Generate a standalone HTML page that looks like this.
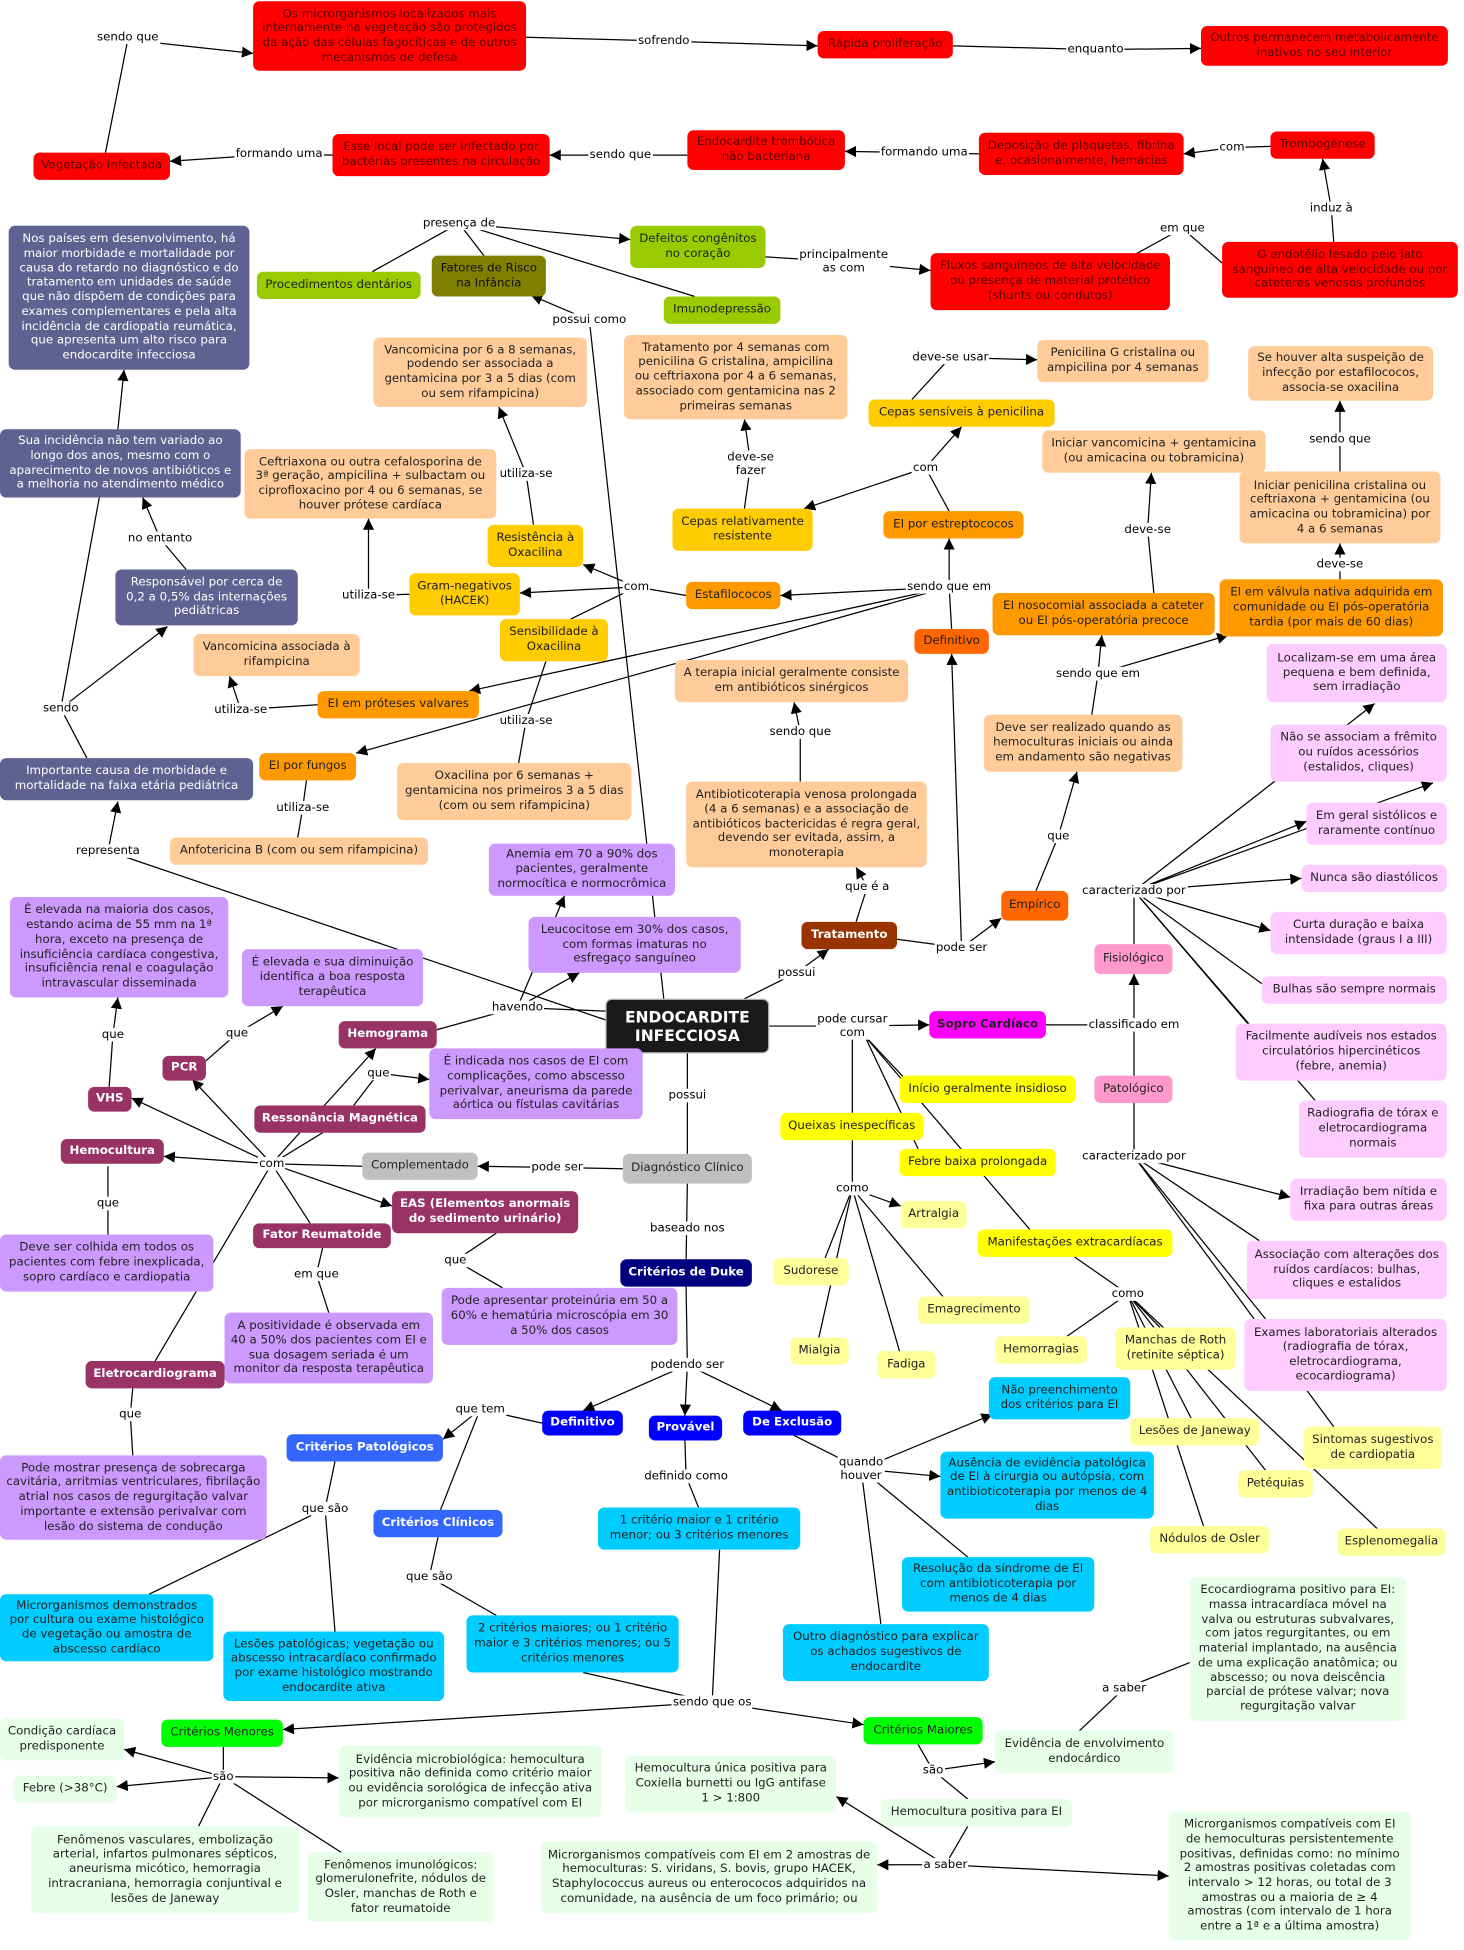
<!DOCTYPE html>
<html><head><meta charset="utf-8">
<style>
html,body{margin:0;padding:0;background:#fff;}
#wrap{position:relative;width:1464px;height:1950px;overflow:hidden;}
#c{position:absolute;left:0;top:0;width:1180px;height:1572px;transform:scale(1.2407);transform-origin:0 0;font-family:"DejaVu Sans","Liberation Sans",sans-serif;font-size:9.5px;line-height:11.7px;}
.n{position:absolute;display:flex;align-items:center;justify-content:center;text-align:center;border-radius:5px;box-sizing:border-box;padding:0 5px;}
.l{position:absolute;transform:translate(-50%,-50%);background:#fff;white-space:nowrap;text-align:center;line-height:11px;padding:0 1px;}
.r{background:#ff0000;color:#5c0000;}
.p{background:#5f6191;color:#fff;}
.g{background:#99cc00;color:#222;}
.o{background:#808000;color:#111;}
.pe{background:#ffcc99;color:#222;}
.y{background:#ffcc00;color:#222;}
.or{background:#ff9900;color:#222;}
.or2{background:#ff6600;color:#222;}
.lp{background:#cc99ff;color:#222;}
.dm{background:#993366;color:#fff;font-weight:bold;padding:0 2px;}
.gr{background:#c0c0c0;color:#222;}
.bl{background:#0000ff;color:#fff;font-weight:bold;padding:0 2px;}
.bl2{background:#3366ff;color:#fff;font-weight:bold;padding:0 2px;}
.cy{background:#00ccff;color:#222;}
.gn{background:#00ff00;color:#222;padding:0 2px;}
.lg{background:#e6ffe6;color:#222;}
.pk{background:#ff99cc;color:#222;padding:0 2px;}
.lpk{background:#ffccff;color:#222;}
.ye{background:#ffff00;color:#222;padding:0 2px;}
.ly{background:#ffff99;color:#222;padding:0 2px;}
svg{position:absolute;left:0;top:0;}
</style></head><body><div id="wrap"><div id="c">
<svg width="1180" height="1572" viewBox="0 0 1180 1572">
<defs><marker id="a" viewBox="0 0 10 10" refX="10" refY="5" markerWidth="9" markerHeight="9" markerUnits="userSpaceOnUse" orient="auto"><path d="M0,0L10,5L0,10z" fill="#000"/></marker></defs>
<g stroke="#000" stroke-width="1" fill="none">
<line x1="85" y1="123" x2="103" y2="32"/><line x1="103" y1="32" x2="204" y2="43" marker-end="url(#a)"/>
<line x1="424" y1="30" x2="535" y2="33"/><line x1="535" y1="33" x2="659" y2="37" marker-end="url(#a)"/>
<line x1="768" y1="37" x2="883" y2="40"/><line x1="883" y1="40" x2="968" y2="39" marker-end="url(#a)"/>
<line x1="1024" y1="118" x2="993" y2="119"/><line x1="993" y1="119" x2="954" y2="124" marker-end="url(#a)"/>
<line x1="1075" y1="195" x2="1073" y2="168"/><line x1="1073" y1="168" x2="1066" y2="128" marker-end="url(#a)"/>
<line x1="789" y1="124" x2="745" y2="123"/><line x1="745" y1="123" x2="681" y2="122" marker-end="url(#a)"/>
<line x1="554" y1="125" x2="500" y2="125"/><line x1="500" y1="125" x2="443" y2="125" marker-end="url(#a)"/>
<line x1="268" y1="125" x2="225" y2="124"/><line x1="225" y1="124" x2="137" y2="130" marker-end="url(#a)"/>
<line x1="915" y1="205" x2="953" y2="184"/><line x1="953" y1="184" x2="985" y2="212"/>
<line x1="617" y1="207" x2="680" y2="211"/><line x1="680" y1="211" x2="750" y2="218" marker-end="url(#a)"/>
<line x1="95" y1="346" x2="100" y2="298" marker-end="url(#a)"/>
<line x1="150" y1="459" x2="129" y2="434"/><line x1="129" y1="434" x2="115" y2="401" marker-end="url(#a)"/>
<line x1="70" y1="611" x2="49" y2="571"/><line x1="49" y1="571" x2="80" y2="401"/><line x1="49" y1="571" x2="135" y2="505" marker-end="url(#a)"/>
<line x1="488" y1="822" x2="87" y2="686"/><line x1="87" y1="686" x2="95" y2="646" marker-end="url(#a)"/>
<line x1="370" y1="180" x2="300" y2="219"/><line x1="370" y1="180" x2="390" y2="206"/><line x1="370" y1="180" x2="508" y2="193" marker-end="url(#a)"/><line x1="370" y1="180" x2="560" y2="239"/>
<line x1="535" y1="805" x2="475" y2="258"/><line x1="475" y1="258" x2="428" y2="238" marker-end="url(#a)"/>
<line x1="600" y1="805" x2="642" y2="784"/><line x1="642" y1="784" x2="668" y2="765" marker-end="url(#a)"/>
<line x1="690" y1="743" x2="699" y2="715"/><line x1="699" y1="715" x2="690" y2="699" marker-end="url(#a)"/>
<line x1="645" y1="630" x2="645" y2="590"/><line x1="645" y1="590" x2="640" y2="566" marker-end="url(#a)"/>
<line x1="723" y1="757" x2="775" y2="764"/><line x1="775" y1="764" x2="807" y2="740" marker-end="url(#a)"/><line x1="775" y1="764" x2="767" y2="527" marker-end="url(#a)"/>
<line x1="835" y1="718" x2="853" y2="674"/><line x1="853" y1="674" x2="868" y2="622" marker-end="url(#a)"/>
<line x1="767" y1="507" x2="765" y2="473"/><line x1="765" y1="473" x2="765" y2="434" marker-end="url(#a)"/><line x1="765" y1="473" x2="629" y2="480" marker-end="url(#a)"/><line x1="765" y1="473" x2="378" y2="557" marker-end="url(#a)"/><line x1="765" y1="473" x2="287" y2="607" marker-end="url(#a)"/>
<line x1="880" y1="576" x2="885" y2="543"/><line x1="885" y1="543" x2="888" y2="512" marker-end="url(#a)"/><line x1="885" y1="543" x2="990" y2="512" marker-end="url(#a)"/>
<line x1="930" y1="478" x2="925" y2="427"/><line x1="925" y1="427" x2="928" y2="381" marker-end="url(#a)"/>
<line x1="1080" y1="467" x2="1080" y2="455"/><line x1="1080" y1="455" x2="1080" y2="438" marker-end="url(#a)"/>
<line x1="1080" y1="380" x2="1080" y2="354"/><line x1="1080" y1="354" x2="1080" y2="323" marker-end="url(#a)"/>
<line x1="765" y1="412" x2="746" y2="377"/><line x1="746" y1="377" x2="775" y2="344" marker-end="url(#a)"/><line x1="746" y1="377" x2="648" y2="410" marker-end="url(#a)"/>
<line x1="600" y1="410" x2="605" y2="374"/><line x1="605" y1="374" x2="600" y2="338" marker-end="url(#a)"/>
<line x1="735" y1="322" x2="766" y2="288"/><line x1="766" y1="288" x2="836" y2="290" marker-end="url(#a)"/>
<line x1="553" y1="480" x2="513" y2="473"/><line x1="513" y1="473" x2="470" y2="455" marker-end="url(#a)"/><line x1="513" y1="473" x2="419" y2="478" marker-end="url(#a)"/><line x1="513" y1="473" x2="460" y2="499"/>
<line x1="430" y1="423" x2="424" y2="382"/><line x1="424" y1="382" x2="402" y2="328" marker-end="url(#a)"/>
<line x1="330" y1="479" x2="297" y2="480"/><line x1="297" y1="480" x2="297" y2="418" marker-end="url(#a)"/>
<line x1="440" y1="533" x2="424" y2="581"/><line x1="424" y1="581" x2="418" y2="615"/>
<line x1="256" y1="568" x2="194" y2="572"/><line x1="194" y1="572" x2="185" y2="545" marker-end="url(#a)"/>
<line x1="247" y1="629" x2="244" y2="651"/><line x1="244" y1="651" x2="240" y2="675"/>
<line x1="488" y1="815" x2="417" y2="812"/><line x1="417" y1="812" x2="467" y2="784" marker-end="url(#a)"/><line x1="417" y1="812" x2="455" y2="722" marker-end="url(#a)"/><line x1="352" y1="830" x2="417" y2="812"/>
<line x1="166" y1="855" x2="191" y2="833"/><line x1="191" y1="833" x2="228" y2="811" marker-end="url(#a)"/>
<line x1="88" y1="876" x2="91" y2="834"/><line x1="91" y1="834" x2="95" y2="804" marker-end="url(#a)"/>
<line x1="285" y1="891" x2="305" y2="865"/><line x1="305" y1="865" x2="346" y2="870" marker-end="url(#a)"/>
<line x1="292" y1="940" x2="219" y2="938"/><line x1="219" y1="938" x2="132" y2="932" marker-end="url(#a)"/><line x1="219" y1="938" x2="106" y2="885" marker-end="url(#a)"/><line x1="219" y1="938" x2="155" y2="870" marker-end="url(#a)"/><line x1="219" y1="938" x2="303" y2="845" marker-end="url(#a)"/><line x1="219" y1="938" x2="260" y2="913"/><line x1="219" y1="938" x2="250" y2="986"/><line x1="219" y1="938" x2="316" y2="972" marker-end="url(#a)"/><line x1="219" y1="938" x2="125" y2="1097"/>
<line x1="502" y1="942" x2="449" y2="941"/><line x1="449" y1="941" x2="385" y2="940" marker-end="url(#a)"/>
<line x1="554" y1="849" x2="554" y2="930"/>
<line x1="554" y1="954" x2="553" y2="1015"/>
<line x1="87" y1="940" x2="87" y2="995"/>
<line x1="400" y1="994" x2="367" y2="1016"/><line x1="367" y1="1016" x2="405" y2="1038"/>
<line x1="260" y1="1006" x2="255" y2="1027"/><line x1="255" y1="1027" x2="265" y2="1058"/>
<line x1="107" y1="1119" x2="105" y2="1140"/><line x1="105" y1="1140" x2="107" y2="1173"/>
<line x1="553" y1="1037" x2="554" y2="1100"/><line x1="554" y1="1100" x2="470" y2="1137" marker-end="url(#a)"/><line x1="554" y1="1100" x2="552" y2="1141" marker-end="url(#a)"/><line x1="554" y1="1100" x2="630" y2="1137" marker-end="url(#a)"/>
<line x1="437" y1="1147" x2="387" y2="1136"/><line x1="387" y1="1136" x2="357" y2="1160" marker-end="url(#a)"/><line x1="387" y1="1136" x2="355" y2="1217"/>
<line x1="270" y1="1178" x2="262" y2="1216"/><line x1="262" y1="1216" x2="120" y2="1285"/><line x1="262" y1="1216" x2="270" y2="1315"/>
<line x1="353" y1="1239" x2="346" y2="1271"/><line x1="346" y1="1271" x2="400" y2="1302"/>
<line x1="552" y1="1161" x2="553" y2="1190"/><line x1="553" y1="1190" x2="563" y2="1215"/>
<line x1="640" y1="1157" x2="694" y2="1184"/><line x1="694" y1="1184" x2="800" y2="1140" marker-end="url(#a)"/><line x1="694" y1="1184" x2="758" y2="1190" marker-end="url(#a)"/><line x1="694" y1="1184" x2="780" y2="1255"/><line x1="694" y1="1184" x2="710" y2="1309"/>
<line x1="580" y1="1249" x2="574" y2="1372"/><line x1="470" y1="1348" x2="574" y2="1372"/><line x1="574" y1="1372" x2="228" y2="1394" marker-end="url(#a)"/><line x1="574" y1="1372" x2="696" y2="1390" marker-end="url(#a)"/>
<line x1="180" y1="1408" x2="180" y2="1432"/><line x1="180" y1="1432" x2="100" y2="1410" marker-end="url(#a)"/><line x1="180" y1="1432" x2="94" y2="1440" marker-end="url(#a)"/><line x1="180" y1="1432" x2="273" y2="1433" marker-end="url(#a)"/><line x1="180" y1="1432" x2="160" y2="1472"/><line x1="180" y1="1432" x2="275" y2="1493"/>
<line x1="740" y1="1406" x2="752" y2="1427"/><line x1="752" y1="1427" x2="802" y2="1420" marker-end="url(#a)"/><line x1="752" y1="1427" x2="780" y2="1450"/>
<line x1="870" y1="1395" x2="906" y2="1361"/><line x1="906" y1="1361" x2="959" y2="1340"/>
<line x1="780" y1="1472" x2="762" y2="1503"/><line x1="762" y1="1503" x2="674" y2="1448" marker-end="url(#a)"/><line x1="762" y1="1503" x2="707" y2="1503" marker-end="url(#a)"/><line x1="762" y1="1503" x2="942" y2="1512" marker-end="url(#a)"/>
<line x1="620" y1="827" x2="687" y2="827"/><line x1="687" y1="827" x2="749" y2="826" marker-end="url(#a)"/>
<line x1="697" y1="835" x2="730" y2="870"/><line x1="687" y1="835" x2="687" y2="897"/><line x1="697" y1="835" x2="740" y2="926"/><line x1="697" y1="835" x2="830" y2="991"/>
<line x1="843" y1="826" x2="914" y2="826"/><line x1="914" y1="826" x2="914" y2="785" marker-end="url(#a)"/><line x1="914" y1="826" x2="914" y2="867"/>
<line x1="914" y1="761" x2="914" y2="718"/>
<line x1="914" y1="718" x2="1108" y2="567" marker-end="url(#a)"/><line x1="914" y1="718" x2="1155" y2="631" marker-end="url(#a)"/><line x1="914" y1="718" x2="1053" y2="662" marker-end="url(#a)"/><line x1="914" y1="718" x2="1049" y2="708" marker-end="url(#a)"/><line x1="914" y1="718" x2="1024" y2="750" marker-end="url(#a)"/><line x1="914" y1="718" x2="1020" y2="795"/><line x1="914" y1="718" x2="1010" y2="830"/><line x1="914" y1="718" x2="1060" y2="887"/>
<line x1="914" y1="889" x2="914" y2="932"/><line x1="914" y1="932" x2="1040" y2="965" marker-end="url(#a)"/><line x1="914" y1="932" x2="1015" y2="1000"/><line x1="914" y1="932" x2="1020" y2="1063"/><line x1="914" y1="932" x2="1075" y2="1150"/>
<line x1="687" y1="919" x2="687" y2="958"/><line x1="687" y1="958" x2="726" y2="972" marker-end="url(#a)"/><line x1="687" y1="958" x2="665" y2="1014"/><line x1="687" y1="958" x2="760" y2="1045"/><line x1="687" y1="958" x2="660" y2="1078"/><line x1="687" y1="958" x2="725" y2="1089"/>
<line x1="866" y1="1013" x2="909" y2="1043"/><line x1="909" y1="1043" x2="860" y2="1077"/><line x1="909" y1="1043" x2="935" y2="1070"/><line x1="909" y1="1043" x2="960" y2="1143"/><line x1="909" y1="1043" x2="1020" y2="1185"/><line x1="909" y1="1043" x2="970" y2="1230"/><line x1="909" y1="1043" x2="1110" y2="1232"/>
</g></svg>

<div class="n r" style="left:204px;top:1px;width:220px;height:56px">Os microrganismos localizados mais internamente na vegetação são protegidos da ação das células fagocíticas e de outros mecanismos de defesa</div>
<div class="n r" style="left:659px;top:25px;width:109px;height:22px">Rápida proliferação</div>
<div class="n r" style="left:968px;top:21px;width:199px;height:32px">Outros permanecem metabolicamente inativos no seu interior</div>
<div class="n r" style="left:27px;top:123px;width:110px;height:22px">Vegetação infectada</div>
<div class="n r" style="left:268px;top:108px;width:175px;height:34px">Esse local pode ser infectado por bactérias presentes na circulação</div>
<div class="n r" style="left:554px;top:105px;width:127px;height:32px">Endocardite trombótica não bacteriana</div>
<div class="n r" style="left:789px;top:107px;width:165px;height:34px">Deposição de plaquetas, fibrina e, ocasionalmente, hemácias</div>
<div class="n r" style="left:1024px;top:106px;width:84px;height:22px">Trombogênese</div>
<div class="n r" style="left:985px;top:195px;width:190px;height:45px">O endotélio lesado pelo jato sanguíneo de alta velocidade ou por cateteres venosos profundos</div>
<div class="n r" style="left:750px;top:204px;width:193px;height:46px">Fluxos sanguíneos de alta velocidade ou presença de material protético (shunts ou condutos)</div>

<div class="n p" style="left:7px;top:182px;width:194px;height:116px">Nos países em desenvolvimento, há maior morbidade e mortalidade por causa do retardo no diagnóstico e do tratamento em unidades de saúde que não dispõem de condições para exames complementares e pela alta incidência de cardiopatia reumática, que apresenta um alto risco para endocardite infecciosa</div>
<div class="n p" style="left:0px;top:346px;width:194px;height:55px">Sua incidência não tem variado ao longo dos anos, mesmo com o aparecimento de novos antibióticos e a melhoria no atendimento médico</div>
<div class="n p" style="left:93px;top:459px;width:147px;height:45px">Responsável por cerca de 0,2 a 0,5% das internações pediátricas</div>
<div class="n p" style="left:0px;top:611px;width:204px;height:34px">Importante causa de morbidade e mortalidade na faixa etária pediátrica</div>

<div class="n g" style="left:207px;top:219px;width:132px;height:22px">Procedimentos dentários</div>
<div class="n o" style="left:348px;top:206px;width:92px;height:33px">Fatores de Risco na Infância</div>
<div class="n g" style="left:508px;top:182px;width:109px;height:34px">Defeitos congênitos no coração</div>
<div class="n g" style="left:535px;top:239px;width:94px;height:22px">Imunodepressão</div>

<div class="n pe" style="left:301px;top:272px;width:172px;height:56px">Vancomicina por 6 a 8 semanas, podendo ser associada a gentamicina por 3 a 5 dias (com ou sem rifampicina)</div>
<div class="n pe" style="left:503px;top:270px;width:180px;height:68px">Tratamento por 4 semanas com penicilina G cristalina, ampicilina ou ceftriaxona por 4 a 6 semanas, associado com gentamicina nas 2 primeiras semanas</div>
<div class="n pe" style="left:197px;top:362px;width:203px;height:56px">Ceftriaxona ou outra cefalosporina de 3ª geração, ampicilina + sulbactam ou ciprofloxacino por 4 ou 6 semanas, se houver prótese cardíaca</div>
<div class="n pe" style="left:156px;top:511px;width:134px;height:34px">Vancomicina associada à rifampicina</div>
<div class="n pe" style="left:320px;top:615px;width:189px;height:46px">Oxacilina por 6 semanas + gentamicina nos primeiros 3 a 5 dias (com ou sem rifampicina)</div>
<div class="n pe" style="left:137px;top:675px;width:208px;height:22px">Anfotericina B (com ou sem rifampicina)</div>
<div class="n pe" style="left:544px;top:532px;width:188px;height:34px">A terapia inicial geralmente consiste em antibióticos sinérgicos</div>
<div class="n pe" style="left:553px;top:630px;width:194px;height:69px">Antibioticoterapia venosa prolongada (4 a 6 semanas) e a associação de antibióticos bactericidas é regra geral, devendo ser evitada, assim, a monoterapia</div>
<div class="n pe" style="left:793px;top:576px;width:160px;height:46px">Deve ser realizado quando as hemoculturas iniciais ou ainda em andamento são negativas</div>
<div class="n pe" style="left:836px;top:274px;width:138px;height:34px">Penicilina G cristalina ou ampicilina por 4 semanas</div>
<div class="n pe" style="left:840px;top:347px;width:180px;height:34px">Iniciar vancomicina + gentamicina (ou amicacina ou tobramicina)</div>
<div class="n pe" style="left:1006px;top:279px;width:149px;height:44px">Se houver alta suspeição de infecção por estafilococos, associa-se oxacilina</div>
<div class="n pe" style="left:999px;top:380px;width:162px;height:58px">Iniciar penicilina cristalina ou ceftriaxona + gentamicina (ou amicacina ou tobramicina) por 4 a 6 semanas</div>

<div class="n y" style="left:393px;top:423px;width:77px;height:34px">Resistência à Oxacilina</div>
<div class="n y" style="left:330px;top:462px;width:89px;height:34px">Gram-negativos (HACEK)</div>
<div class="n y" style="left:403px;top:499px;width:87px;height:34px">Sensibilidade à Oxacilina</div>
<div class="n y" style="left:700px;top:322px;width:150px;height:22px">Cepas sensíveis à penicilina</div>
<div class="n y" style="left:542px;top:410px;width:113px;height:34px">Cepas relativamente resistente</div>

<div class="n or" style="left:553px;top:469px;width:76px;height:22px">Estafilococos</div>
<div class="n or" style="left:712px;top:412px;width:113px;height:22px">EI por estreptococos</div>
<div class="n or" style="left:256px;top:557px;width:130px;height:22px">EI em próteses valvares</div>
<div class="n or" style="left:209px;top:607px;width:78px;height:22px">EI por fungos</div>
<div class="n or" style="left:800px;top:478px;width:179px;height:34px">EI nosocomial associada a cateter ou EI pós-operatória precoce</div>
<div class="n or" style="left:983px;top:467px;width:180px;height:46px">EI em válvula nativa adquirida em comunidade ou EI pós-operatória tardia (por mais de 60 dias)</div>
<div class="n or2" style="left:737px;top:507px;width:60px;height:20px">Definitivo</div>
<div class="n or2" style="left:807px;top:718px;width:54px;height:24px">Empírico</div>
<div class="n" style="left:646px;top:743px;width:77px;height:22px;background:#993300;color:#fff;font-weight:bold;padding:0">Tratamento</div>

<div class="n" style="left:488px;top:805px;width:132px;height:44px;background:#1a1a1a;color:#fff;font-weight:bold;font-size:12.5px;line-height:15px;border:1px solid #aaa">ENDOCARDITE INFECCIOSA</div>

<div class="n lp" style="left:394px;top:680px;width:150px;height:42px">Anemia em 70 a 90% dos pacientes, geralmente normocítica e normocrômica</div>
<div class="n lp" style="left:426px;top:739px;width:171px;height:45px">Leucocitose em 30% dos casos, com formas imaturas no esfregaço sanguíneo</div>
<div class="n lp" style="left:346px;top:845px;width:172px;height:57px">É indicada nos casos de EI com complicações, como abscesso perivalvar, aneurisma da parede aórtica ou fístulas cavitárias</div>
<div class="n lp" style="left:8px;top:723px;width:176px;height:81px">É elevada na maioria dos casos, estando acima de 55 mm na 1ª hora, exceto na presença de insuficiência cardíaca congestiva, insuficiência renal e coagulação intravascular disseminada</div>
<div class="n lp" style="left:195px;top:765px;width:146px;height:46px">É elevada e sua diminuição identifica a boa resposta terapêutica</div>
<div class="n lp" style="left:0px;top:995px;width:172px;height:46px">Deve ser colhida em todos os pacientes com febre inexplicada, sopro cardíaco e cardiopatia</div>
<div class="n lp" style="left:356px;top:1038px;width:190px;height:46px">Pode apresentar proteinúria em 50 a 60% e hematúria microscópia em 30 a 50% dos casos</div>
<div class="n lp" style="left:181px;top:1058px;width:168px;height:57px">A positividade é observada em 40 a 50% dos pacientes com EI e sua dosagem seriada é um monitor da resposta terapêutica</div>
<div class="n lp" style="left:0px;top:1173px;width:215px;height:68px">Pode mostrar presença de sobrecarga cavitária, arritmias ventriculares, fibrilação atrial nos casos de regurgitação valvar importante e extensão perivalvar com lesão do sistema de condução</div>

<div class="n dm" style="left:273px;top:823px;width:79px;height:22px">Hemograma</div>
<div class="n dm" style="left:131px;top:851px;width:35px;height:20px">PCR</div>
<div class="n dm" style="left:71px;top:876px;width:35px;height:20px">VHS</div>
<div class="n dm" style="left:49px;top:918px;width:83px;height:20px">Hemocultura</div>
<div class="n dm" style="left:205px;top:891px;width:138px;height:22px">Ressonância Magnética</div>
<div class="n dm" style="left:316px;top:960px;width:150px;height:34px">EAS (Elementos anormais do sedimento urinário)</div>
<div class="n dm" style="left:204px;top:986px;width:111px;height:20px">Fator Reumatoide</div>
<div class="n dm" style="left:69px;top:1097px;width:112px;height:22px">Eletrocardiograma</div>
<div class="n gr" style="left:292px;top:929px;width:93px;height:22px">Complementado</div>
<div class="n gr" style="left:502px;top:930px;width:104px;height:24px">Diagnóstico Clínico</div>

<div class="n" style="left:500px;top:1015px;width:106px;height:22px;background:#000080;color:#fff;font-weight:bold;padding:0">Critérios de Duke</div>
<div class="n bl" style="left:437px;top:1137px;width:65px;height:20px">Definitivo</div>
<div class="n bl" style="left:523px;top:1141px;width:59px;height:20px">Provável</div>
<div class="n bl" style="left:599px;top:1137px;width:79px;height:20px">De Exclusão</div>
<div class="n bl2" style="left:231px;top:1156px;width:126px;height:22px">Critérios Patológicos</div>
<div class="n bl2" style="left:301px;top:1217px;width:104px;height:22px">Critérios Clínicos</div>
<div class="n cy" style="left:0px;top:1285px;width:172px;height:54px">Microrganismos demonstrados por cultura ou exame histológico de vegetação ou amostra de abscesso cardíaco</div>
<div class="n cy" style="left:180px;top:1315px;width:178px;height:56px">Lesões patológicas; vegetação ou abscesso intracardíaco confirmado por exame histológico mostrando endocardite ativa</div>
<div class="n cy" style="left:376px;top:1302px;width:171px;height:46px">2 critérios maiores; ou 1 critério maior e 3 critérios menores; ou 5 critérios menores</div>
<div class="n cy" style="left:482px;top:1215px;width:163px;height:34px">1 critério maior e 1 critério menor; ou 3 critérios menores</div>
<div class="n cy" style="left:797px;top:1110px;width:114px;height:34px">Não preenchimento dos critérios para EI</div>
<div class="n cy" style="left:758px;top:1170px;width:172px;height:54px">Ausência de evidência patológica de EI à cirurgia ou autópsia, com antibioticoterapia por menos de 4 dias</div>
<div class="n cy" style="left:727px;top:1255px;width:155px;height:44px">Resolução da síndrome de EI com antibioticoterapia por menos de 4 dias</div>
<div class="n cy" style="left:631px;top:1309px;width:166px;height:46px">Outro diagnóstico para explicar os achados sugestivos de endocardite</div>

<div class="n gn" style="left:130px;top:1386px;width:98px;height:22px">Critérios Menores</div>
<div class="n gn" style="left:696px;top:1384px;width:96px;height:22px">Critérios Maiores</div>
<div class="n lg" style="left:0px;top:1385px;width:100px;height:34px">Condição cardíaca predisponente</div>
<div class="n lg" style="left:11px;top:1431px;width:83px;height:22px">Febre (&gt;38°C)</div>
<div class="n lg" style="left:273px;top:1407px;width:212px;height:58px">Evidência microbiológica: hemocultura positiva não definida como critério maior ou evidência sorológica de infecção ativa por microrganismo compatível com EI</div>
<div class="n lg" style="left:25px;top:1472px;width:216px;height:70px">Fenômenos vasculares, embolização arterial, infartos pulmonares sépticos, aneurisma micótico, hemorragia intracraniana, hemorragia conjuntival e lesões de Janeway</div>
<div class="n lg" style="left:248px;top:1493px;width:150px;height:56px">Fenômenos imunológicos: glomerulonefrite, nódulos de Osler, manchas de Roth e fator reumatoide</div>
<div class="n lg" style="left:802px;top:1395px;width:144px;height:34px">Evidência de envolvimento endocárdico</div>
<div class="n lg" style="left:959px;top:1271px;width:174px;height:116px">Ecocardiograma positivo para EI: massa intracardíaca móvel na valva ou estruturas subvalvares, com jatos regurgitantes, ou em material implantado, na ausência de uma explicação anatômica; ou abscesso; ou nova deiscência parcial de prótese valvar; nova regurgitação valvar</div>
<div class="n lg" style="left:710px;top:1450px;width:154px;height:22px">Hemocultura positiva para EI</div>
<div class="n lg" style="left:504px;top:1415px;width:170px;height:46px">Hemocultura única positiva para Coxiella burnetti ou IgG antifase 1 &gt; 1:800</div>
<div class="n lg" style="left:436px;top:1484px;width:271px;height:58px">Microrganismos compatíveis com EI em 2 amostras de hemoculturas: S. viridans, S. bovis, grupo HACEK, Staphylococcus aureus ou enterococos adquiridos na comunidade, na ausência de um foco primário; ou</div>
<div class="n lg" style="left:942px;top:1460px;width:195px;height:104px">Microrganismos compatíveis com EI de hemoculturas persistentemente positivas, definidas como: no mínimo 2 amostras positivas coletadas com intervalo &gt; 12 horas, ou total de 3 amostras ou a maioria de ≥ 4 amostras (com intervalo de 1 hora entre a 1ª e a última amostra)</div>

<div class="n" style="left:749px;top:815px;width:94px;height:22px;background:#ff00ff;color:#222;font-weight:bold;padding:0">Sopro Cardíaco</div>
<div class="n pk" style="left:882px;top:761px;width:63px;height:24px">Fisiológico</div>
<div class="n pk" style="left:882px;top:867px;width:63px;height:22px">Patológico</div>
<div class="n lpk" style="left:1021px;top:519px;width:145px;height:47px">Localizam-se em uma área pequena e bem definida, sem irradiação</div>
<div class="n lpk" style="left:1024px;top:584px;width:142px;height:46px">Não se associam a frêmito ou ruídos acessórios (estalidos, cliques)</div>
<div class="n lpk" style="left:1053px;top:647px;width:113px;height:34px">Em geral sistólicos e raramente contínuo</div>
<div class="n lpk" style="left:1049px;top:697px;width:117px;height:22px">Nunca são diastólicos</div>
<div class="n lpk" style="left:1024px;top:735px;width:142px;height:34px">Curta duração e baixa intensidade (graus I a III)</div>
<div class="n lpk" style="left:1017px;top:787px;width:149px;height:22px">Bulhas são sempre normais</div>
<div class="n lpk" style="left:996px;top:825px;width:170px;height:46px">Facilmente audíveis nos estados circulatórios hipercinéticos (febre, anemia)</div>
<div class="n lpk" style="left:1047px;top:887px;width:119px;height:46px">Radiografia de tórax e eletrocardiograma normais</div>
<div class="n lpk" style="left:1040px;top:950px;width:126px;height:34px">Irradiação bem nítida e fixa para outras áreas</div>
<div class="n lpk" style="left:1005px;top:1000px;width:161px;height:47px">Associação com alterações dos ruídos cardíacos: bulhas, cliques e estalidos</div>
<div class="n lpk" style="left:1003px;top:1063px;width:163px;height:58px">Exames laboratoriais alterados (radiografia de tórax, eletrocardiograma, ecocardiograma)</div>
<div class="n ly" style="left:1051px;top:1150px;width:111px;height:34px">Sintomas sugestivos de cardiopatia</div>

<div class="n ye" style="left:725px;top:867px;width:142px;height:22px">Início geralmente insidioso</div>
<div class="n ye" style="left:629px;top:897px;width:115px;height:22px">Queixas inespecíficas</div>
<div class="n ye" style="left:725px;top:926px;width:126px;height:22px">Febre baixa prolongada</div>
<div class="n ye" style="left:788px;top:991px;width:157px;height:22px">Manifestações extracardíacas</div>
<div class="n ly" style="left:726px;top:968px;width:53px;height:22px">Artralgia</div>
<div class="n ly" style="left:623px;top:1014px;width:61px;height:22px">Sudorese</div>
<div class="n ly" style="left:740px;top:1045px;width:90px;height:22px">Emagrecimento</div>
<div class="n ly" style="left:637px;top:1078px;width:47px;height:22px">Mialgia</div>
<div class="n ly" style="left:707px;top:1089px;width:47px;height:22px">Fadiga</div>
<div class="n ly" style="left:802px;top:1077px;width:74px;height:22px">Hemorragias</div>
<div class="n ly" style="left:899px;top:1070px;width:97px;height:34px">Manchas de Roth (retinite séptica)</div>
<div class="n ly" style="left:911px;top:1143px;width:104px;height:22px">Lesões de Janeway</div>
<div class="n ly" style="left:998px;top:1185px;width:60px;height:22px">Petéquias</div>
<div class="n ly" style="left:927px;top:1230px;width:96px;height:22px">Nódulos de Osler</div>
<div class="n ly" style="left:1078px;top:1232px;width:87px;height:22px">Esplenomegalia</div>

<div class="l" style="left:103px;top:30px">sendo que</div>
<div class="l" style="left:535px;top:33px">sofrendo</div>
<div class="l" style="left:883px;top:40px">enquanto</div>
<div class="l" style="left:225px;top:124px">formando uma</div>
<div class="l" style="left:500px;top:125px">sendo que</div>
<div class="l" style="left:745px;top:123px">formando uma</div>
<div class="l" style="left:993px;top:119px">com</div>
<div class="l" style="left:1073px;top:168px">induz à</div>
<div class="l" style="left:953px;top:184px">em que</div>
<div class="l" style="left:680px;top:211px">principalmente<br>as com</div>
<div class="l" style="left:129px;top:434px">no entanto</div>
<div class="l" style="left:49px;top:571px">sendo</div>
<div class="l" style="left:87px;top:686px">representa</div>
<div class="l" style="left:370px;top:180px">presença de</div>
<div class="l" style="left:475px;top:258px">possui como</div>
<div class="l" style="left:424px;top:382px">utiliza-se</div>
<div class="l" style="left:297px;top:480px">utiliza-se</div>
<div class="l" style="left:513px;top:473px">com</div>
<div class="l" style="left:765px;top:473px">sendo que em</div>
<div class="l" style="left:194px;top:572px">utiliza-se</div>
<div class="l" style="left:424px;top:581px">utiliza-se</div>
<div class="l" style="left:244px;top:651px">utiliza-se</div>
<div class="l" style="left:605px;top:374px">deve-se<br>fazer</div>
<div class="l" style="left:746px;top:377px">com</div>
<div class="l" style="left:766px;top:288px">deve-se usar</div>
<div class="l" style="left:925px;top:427px">deve-se</div>
<div class="l" style="left:1080px;top:354px">sendo que</div>
<div class="l" style="left:1080px;top:455px">deve-se</div>
<div class="l" style="left:885px;top:543px">sendo que em</div>
<div class="l" style="left:853px;top:674px">que</div>
<div class="l" style="left:645px;top:590px">sendo que</div>
<div class="l" style="left:699px;top:715px">que é a</div>
<div class="l" style="left:642px;top:784px">possui</div>
<div class="l" style="left:775px;top:764px">pode ser</div>
<div class="l" style="left:417px;top:812px">havendo</div>
<div class="l" style="left:191px;top:833px">que</div>
<div class="l" style="left:305px;top:865px">que</div>
<div class="l" style="left:219px;top:938px">com</div>
<div class="l" style="left:91px;top:834px">que</div>
<div class="l" style="left:87px;top:970px">que</div>
<div class="l" style="left:449px;top:941px">pode ser</div>
<div class="l" style="left:554px;top:883px">possui</div>
<div class="l" style="left:367px;top:1016px">que</div>
<div class="l" style="left:255px;top:1027px">em que</div>
<div class="l" style="left:105px;top:1140px">que</div>
<div class="l" style="left:554px;top:990px">baseado nos</div>
<div class="l" style="left:554px;top:1100px">podendo ser</div>
<div class="l" style="left:387px;top:1136px">que tem</div>
<div class="l" style="left:262px;top:1216px">que são</div>
<div class="l" style="left:346px;top:1271px">que são</div>
<div class="l" style="left:553px;top:1190px">definido como</div>
<div class="l" style="left:694px;top:1184px">quando<br>houver</div>
<div class="l" style="left:574px;top:1372px">sendo que os</div>
<div class="l" style="left:180px;top:1432px">são</div>
<div class="l" style="left:752px;top:1427px">são</div>
<div class="l" style="left:906px;top:1361px">a saber</div>
<div class="l" style="left:762px;top:1503px">a saber</div>
<div class="l" style="left:687px;top:827px">pode cursar<br>com</div>
<div class="l" style="left:914px;top:826px">classificado em</div>
<div class="l" style="left:914px;top:718px">caracterizado por</div>
<div class="l" style="left:914px;top:932px">caracterizado por</div>
<div class="l" style="left:687px;top:958px">como</div>
<div class="l" style="left:909px;top:1043px">como</div>
</div></div></body></html>
